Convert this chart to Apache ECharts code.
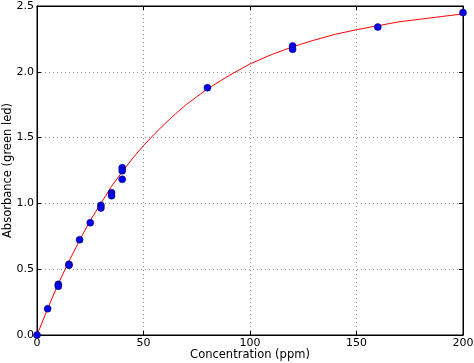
<!DOCTYPE html>
<html>
<head>
<meta charset="utf-8">
<script src="https://cdn.jsdelivr.net/npm/echarts@6/dist/echarts.min.js"></script>
<style>html,body{margin:0;padding:0;background:#fff}#c{width:474px;height:363px}</style>
</head>
<body>
<div id="c"></div>
<script>
// measured points
var pointX = [0, 5, 10, 10, 15, 15, 20, 25, 30, 30, 35, 35, 40, 40, 40, 80, 120, 120, 160, 200];
var pointY = [0, 0.20, 0.385, 0.37, 0.537, 0.53, 0.724, 0.853, 0.985, 0.965, 1.081, 1.059, 1.271, 1.248, 1.183, 1.879, 2.196, 2.171, 2.34, 2.45];
// fitted curve
var curveX = [0, 5, 10, 15, 20, 25, 30, 35, 40, 45, 50, 55, 60, 65, 70, 75, 80, 90, 100, 110, 120, 130, 140, 150, 160, 170, 180, 190, 200];
var curveY = [0, 0.20, 0.39, 0.56, 0.72, 0.87, 1.00, 1.13, 1.24, 1.345, 1.44, 1.525, 1.605, 1.68, 1.75, 1.81, 1.87, 1.97, 2.06, 2.13, 2.19, 2.24, 2.285, 2.32, 2.35, 2.38, 2.40, 2.42, 2.44];
var xTicks = [0, 50, 100, 150, 200];
var yTicks = [0, 0.5, 1.0, 1.5, 2.0, 2.5];

var font = 'DejaVu Sans';
var chart = echarts.init(document.getElementById('c'));
function mainAxis(extra) {
  return Object.assign({
    type: 'value',
    nameMoveOverlap: false,
    axisLine: {show: true, onZero: false, lineStyle: {color: '#000', width: 1}},
    axisTick: {show: true, inside: true, length: 4, lineStyle: {color: '#000'}},
    splitLine: {show: true, lineStyle: {color: '#999', type: [1, 3], width: 1}},
    nameTextStyle: {color: '#000', fontFamily: font, fontSize: 11.5}
  }, extra);
}
function mirrorAxis(extra) {
  return Object.assign({
    type: 'value',
    axisLine: {show: true, onZero: false, lineStyle: {color: '#000', width: 1}},
    axisTick: {show: true, inside: true, length: 4, lineStyle: {color: '#000'}},
    splitLine: {show: false},
    axisLabel: {show: false}
  }, extra);
}
chart.setOption({
  animation: false,
  backgroundColor: '#fff',
  grid: {left: 37, right: 11, top: 6, bottom: 28, containLabel: false, outerBoundsMode: 'none',
    show: true, borderColor: '#000', borderWidth: 1},
  xAxis: [
    mainAxis({min: xTicks[0], max: xTicks[xTicks.length - 1], interval: 50, position: 'bottom',
      name: 'Concentration (ppm)', nameLocation: 'middle', nameGap: 14,
      axisLabel: {color: '#000', fontFamily: font, fontSize: 11, margin: 3}}),
    mirrorAxis({min: xTicks[0], max: xTicks[xTicks.length - 1], interval: 50, position: 'top'})
  ],
  yAxis: [
    mainAxis({min: yTicks[0], max: yTicks[yTicks.length - 1], interval: 0.5, position: 'left',
      name: 'Absorbance (green led)', nameLocation: 'middle', nameGap: 23,
      axisLabel: {color: '#000', fontFamily: font, fontSize: 11, margin: 3,
        formatter: function (v) { return v.toFixed(1); }}}),
    mirrorAxis({min: yTicks[0], max: yTicks[yTicks.length - 1], interval: 0.5, position: 'right'})
  ],
  series: [
    {
      type: 'line', xAxisIndex: 0, yAxisIndex: 0,
      data: curveX.map(function (x, i) { return [x, curveY[i]]; }),
      smooth: false, showSymbol: false, symbol: 'none',
      lineStyle: {color: '#ff0000', width: 1}, z: 2
    },
    {
      type: 'scatter', xAxisIndex: 0, yAxisIndex: 0,
      data: pointX.map(function (x, i) { return [x, pointY[i]]; }),
      symbol: 'circle', symbolSize: 7,
      itemStyle: {color: '#0000ee', borderColor: '#000055', borderWidth: 0.5, opacity: 1},
      z: 3
    }
  ]
});
</script>
</body>
</html>
